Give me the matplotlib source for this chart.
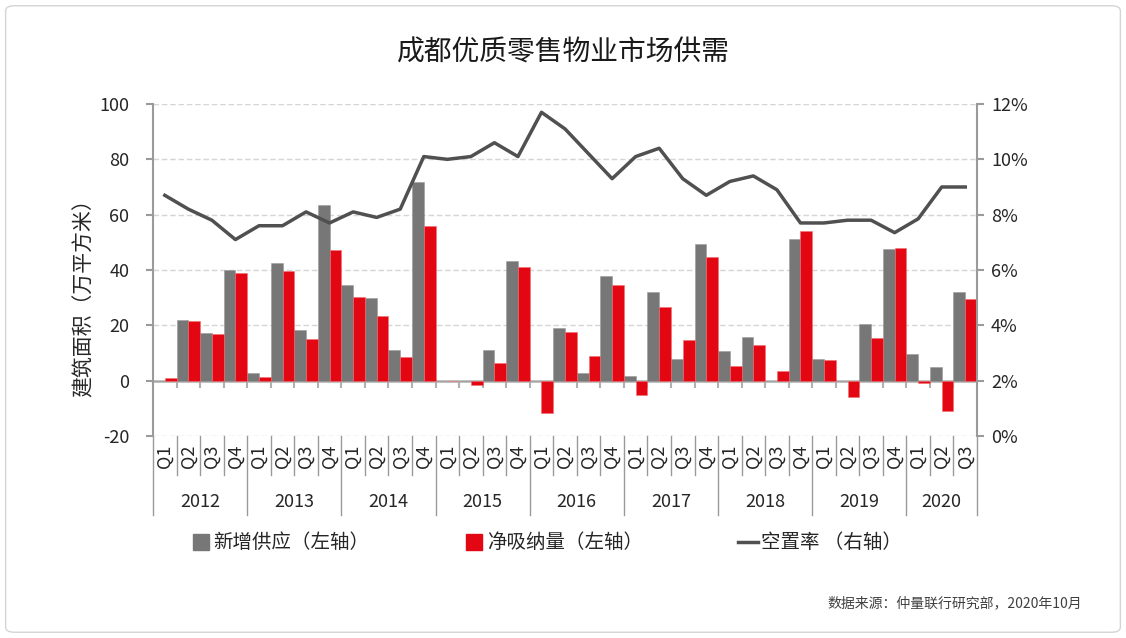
import numpy as np
import matplotlib.pyplot as plt
from matplotlib.lines import Line2D
from matplotlib.patches import FancyBboxPatch
from matplotlib.transforms import blended_transform_factory

plt.rcParams['font.family'] = ['Noto Sans CJK SC', 'DejaVu Sans']
plt.rcParams['axes.unicode_minus'] = False

# data
years = ['2012', '2013', '2014', '2015', '2016', '2017', '2018', '2019', '2020']
quarters = ['Q1', 'Q2', 'Q3', 'Q4'] * 8 + ['Q1', 'Q2', 'Q3']
supply = [0, 22.0, 17.1, 40.0, 2.6, 42.5, 18.4, 63.5, 34.7, 29.9, 11.2, 71.9,
          0, 0, 11.2, 43.1, 0, 19.0, 2.9, 37.8, 1.7, 32.0, 7.8, 49.3,
          10.6, 15.8, 0, 51.2, 7.8, 0, 20.5, 47.5, 9.8, 5.1, 31.9]
absorption = [1.0, 21.6, 17.0, 38.9, 1.2, 39.5, 15.1, 47.3, 30.2, 23.4, 8.6, 55.9,
              0, -1.7, 6.5, 41.0, -11.8, 17.6, 8.8, 34.7, -5.2, 26.7, 14.7, 44.6,
              5.3, 12.8, 3.5, 54.1, 7.4, -5.8, 15.4, 47.8, -0.7, -11.1, 29.5]
vacancy = [8.7, 8.2, 7.8, 7.1, 7.6, 7.6, 8.1, 7.7, 8.1, 7.9, 8.2, 10.1,
           10.0, 10.1, 10.6, 10.1, 11.7, 11.1, 10.2, 9.3, 10.1, 10.4, 9.3, 8.7,
           9.2, 9.4, 8.9, 7.7, 7.7, 7.8, 7.8, 7.35, 7.85, 9.0, 9.0]

gray = '#777777'
red = '#e30613'
line_c = '#505050'
axis_c = '#9a9a9a'

fig = plt.figure(figsize=(11.26, 6.38), dpi=100)
fig.patches.append(FancyBboxPatch((0.005, 0.009), 0.99, 0.982,
                                  boxstyle='round,pad=0,rounding_size=0.008',
                                  transform=fig.transFigure, fill=False,
                                  edgecolor='#d4d4d4', lw=1))

ax = fig.add_axes([0.1359, 0.3166, 0.7318, 0.5204])
ax2 = ax.twinx()

n = len(supply)
x = np.arange(n)
w = 0.5
ax.bar(x - w / 2, supply, width=w, color=gray, edgecolor='#9a9a9a', linewidth=0.4, zorder=3)
ax.bar(x + w / 2, absorption, width=w, color=red, edgecolor='#f07070', linewidth=0.4, zorder=3)
ax2.plot(x, np.array(vacancy) / 100, color=line_c, lw=2.5, zorder=4)

ax.set_xlim(-0.5, n - 0.5)
ax.set_ylim(-20, 100)
ax.set_yticks(np.arange(-20, 101, 20))
ax2.set_ylim(0, 0.12)
ax2.set_yticks(np.arange(0, 0.121, 0.02))
ax2.set_yticklabels([f'{v}%' for v in range(0, 13, 2)])

ax.grid(axis='y', color='#d5d5d5', linestyle=(0, (4, 2)), lw=1, zorder=0)
ax.set_axisbelow(True)
ax.axhline(0, color='#b0b0b0', lw=1.8, zorder=2)

for a in (ax, ax2):
    for s in ('top', 'bottom'):
        a.spines[s].set_visible(False)
    a.spines['left'].set_color(axis_c)
    a.spines['right'].set_color(axis_c)
    a.spines['left'].set_linewidth(1.5)
    a.spines['right'].set_linewidth(1.5)
ax.spines['right'].set_visible(False)
ax2.spines['left'].set_visible(False)

ax.tick_params(axis='y', direction='out', length=5, width=1.5, color=axis_c,
               labelsize=13, labelcolor='#262626', pad=12)
ax2.tick_params(axis='y', direction='out', length=5, width=1.5, color=axis_c,
                labelsize=13, labelcolor='#262626', pad=5)
ax.set_xticks([])

# category axis: quarter labels, year labels and separators
tr = blended_transform_factory(ax.transData, ax.transAxes)
bounds = np.arange(n + 1) - 0.5
ax.vlines(bounds[1:-1], -2.5, 0, color='#b0b0b0', lw=1.5, zorder=2)
for b in bounds:
    is_year = (b + 0.5) % 4 == 0 or b == bounds[-1]
    y_end = -0.238 if is_year else -0.118
    ax.plot([b, b], [0, y_end], transform=tr, color=axis_c, lw=1, clip_on=False)
for i, q in enumerate(quarters):
    ax.text(i, -0.06, q, transform=tr, rotation=90, ha='center', va='center',
            fontsize=13, color='#262626')
for k, yr in enumerate(years):
    start = k * 4
    end = min(start + 4, n)
    ax.text((start + end - 1) / 2, -0.199, yr, transform=tr, ha='center', va='center',
            fontsize=13, color='#262626')

fig.text(0.5, 0.918, '成都优质零售物业市场供需', ha='center', va='center', fontsize=20, color='#1a1a1a')
fig.text(0.074, 0.541, '建筑面积（万平方米）', rotation=90, ha='center', va='center',
         fontsize=15, color='#262626')

handles = [Line2D([], [], marker='s', ls='', color=gray, markersize=11),
           Line2D([], [], marker='s', ls='', color=red, markersize=11),
           Line2D([], [], color=line_c, lw=2.5)]
labels = ['新增供应（左轴）', '净吸纳量（左轴）', '空置率 （右轴）']
fig.legend(handles, labels, loc='center left', bbox_to_anchor=(0.154, 0.149), ncol=3,
           frameon=False, fontsize=14, handlelength=1.0, handletextpad=0.15,
           columnspacing=4.9, labelcolor='#262626')

fig.text(0.961, 0.055, '数据来源：仲量联行研究部，2020年10月', ha='right', va='center',
         fontsize=10, color='#404040')

fig.savefig('out.png', dpi=100)
